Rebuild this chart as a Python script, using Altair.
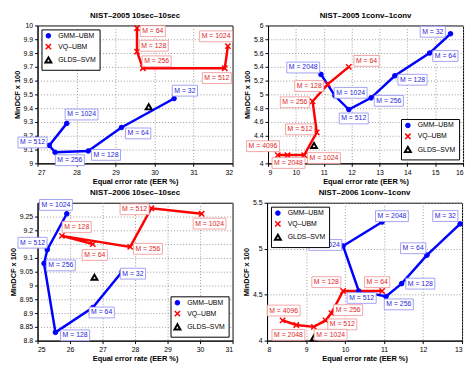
import altair as alt
import pandas as pd

FONT = "Liberation Sans"
BLUE = "#0000ff"
RED = "#ff0000"
BLUE_TXT = "#2626d9"
RED_TXT = "#e02626"
BLUE_BOX = "#8c8cf2"
RED_BOX = "#f29090"
W, H = 198, 140
FS = 7
SERIES = ["GMM–UBM", "VQ–UBM", "GLDS–SVM"]

# ---- Panel 1: NIST-2005 10sec-10sec
p1_gmm_M = [32, 64, 128, 256, 512, 1024]
p1_gmm_eer = [30.5, 29.15, 28.3, 27.45, 27.3, 27.75]
p1_gmm_dcf = [9.47, 9.26, 9.09, 9.08, 9.13, 9.29]
p1_vq_M = [64, 128, 256, 512, 1024]
p1_vq_eer = [29.55, 29.55, 29.7, 31.8, 31.88]
p1_vq_dcf = [9.98, 9.81, 9.69, 9.69, 9.85]
p1_glds = [29.85, 9.41]

# ---- Panel 2: NIST-2005 1conv-1conv
p2_gmm_M = [32, 64, 128, 256, 512, 1024, 2048]
p2_gmm_eer = [15.55, 14.8, 13.55, 12.7, 11.9, 11.4, 10.9]
p2_gmm_dcf = [5.88, 5.6, 5.27, 4.95, 4.78, 4.98, 5.29]
p2_vq_M = [64, 128, 256, 512, 1024, 2048, 4096]
p2_vq_eer = [11.9, 11.15, 10.6, 10.75, 10.3, 9.7, 9.35]
p2_vq_dcf = [5.4, 5.15, 4.9, 4.45, 4.12, 4.12, 4.12]
p2_glds = [10.65, 4.26]

# ---- Panel 3: NIST-2006 10sec-10sec
p3_gmm_M = [32, 64, 128, 256, 512, 1024]
p3_gmm_eer = [27.6, 26.7, 25.55, 25.2, 25.3, 25.9]
p3_gmm_dcf = [9.05, 8.92, 8.83, 9.08, 9.13, 9.26]
p3_vq_M = [64, 128, 256, 512, 1024]
p3_vq_eer = [26.7, 25.75, 27.85, 28.5, 30.05]
p3_vq_dcf = [9.15, 9.18, 9.14, 9.28, 9.26]
p3_glds = [26.75, 9.03]

# ---- Panel 4: NIST-2006 1conv-1conv
p4_gmm_M = [32, 64, 128, 256, 512, 1024, 2048]
p4_gmm_eer = [12.95, 12.1, 11.45, 11.05, 10.35, 9.95, 10.95]
p4_gmm_dcf = [5.27, 4.93, 4.62, 4.48, 4.54, 5.03, 5.29]
p4_vq_M = [64, 128, 256, 512, 1024, 2048, 4096]
p4_vq_eer = [10.95, 9.95, 9.65, 9.5, 9.2, 8.75, 8.4]
p4_vq_dcf = [4.54, 4.54, 4.3, 4.22, 4.15, 4.17, 4.22]
p4_glds = [9.2, 4.03]

# label box offsets (pixels, from point to box centre) -- styling only
p1_gmm_off = [(11, -8), (17, 6), (18, 4), (15, 8), (-17, -3), (15, -9)]
p1_vq_off = [(16, 3), (17, -6), (14, -7), (-8, 10), (-12, -10)]
p2_gmm_off = [(-18, -2), (16, 3), (18, 4), (18, 3), (5, 9), (16, -3), (-18, -7)]
p2_vq_off = [(18, -6), (-19, 2), (-18, 1), (-17, -3), (20, 3), (1, 8), (-15, -9)]
p3_gmm_off = [(11, 2), (9, 5), (20, 3), (17, 2), (-15, -7), (-11, -9)]
p3_vq_off = [(2, 11), (15, -9), (18, 2), (-17, 1), (8, 10)]
p4_gmm_off = [(-15, -8), (-14, -7), (19, 0), (13, 8), (3, 7), (-18, -1), (10, -6)]
p4_vq_off = [(-5, -9), (-17, -9), (17, -3), (17, 4), (17, 8), (-8, 10), (1, -10)]


def text_width(s, fs):
    widths = {"M": 0.833, " ": 0.278, "=": 0.584}
    return fs * sum(widths.get(c, 0.556) for c in s)


def panel(title, xdom, ydom, xticks, yticks, gM, gx, gy, goff, vM, vx, vy, voff, glds, orient):
    kx = W / (xdom[1] - xdom[0])
    ky = H / (ydom[1] - ydom[0])
    rows_line, rows_pt, rows_lab = [], [], []
    for name, Ms, xs_, ys_, offs, lc, tc, bc in [
        (SERIES[0], gM, gx, gy, goff, BLUE, BLUE_TXT, BLUE_BOX),
        (SERIES[1], vM, vx, vy, voff, RED, RED_TXT, RED_BOX),
    ]:
        for i, (m, x, y, (dx, dy)) in enumerate(zip(Ms, xs_, ys_, offs)):
            rows_pt.append(dict(series=name, eer=x, dcf=y))
            rows_line.append(dict(series=name, eer=x, dcf=y, idx=i, lc=lc))
            lab = f"M = {m}"
            w = text_width(lab, FS) + 4
            h = FS + 4
            cx = x + dx / kx
            cy = y - dy / ky
            rows_lab.append(dict(lab=lab, eer=cx, dcf=cy,
                                 x0=cx - w / 2 / kx, x1=cx + w / 2 / kx,
                                 y0=cy - h / 2 / ky, y1=cy + h / 2 / ky,
                                 tc=tc, bc=bc))
    rows_pt.append(dict(series=SERIES[2], eer=glds[0], dcf=glds[1]))
    dl = pd.DataFrame(rows_line)
    dp = pd.DataFrame(rows_pt)
    db = pd.DataFrame(rows_lab)

    xs = alt.Scale(domain=xdom, nice=False, zero=False)
    ys = alt.Scale(domain=ydom, nice=False, zero=False)
    xax = alt.Axis(values=xticks, format="~g")
    yax = alt.Axis(values=yticks, format="~g")
    XT = "Equal error rate (EER %)"
    YT = "MinDCF x 100"
    X = alt.X("eer:Q", scale=xs, axis=xax, title=XT)
    Y = alt.Y("dcf:Q", scale=ys, axis=yax, title=YT)

    lines = alt.Chart(dl).mark_line(strokeWidth=2.5).encode(
        x=X, y=Y, color=alt.Color("lc:N", scale=None), detail="series:N", order="idx:Q")
    boxes = alt.Chart(db).mark_rect(fill="white", strokeWidth=0.8).encode(
        x=alt.X("x0:Q", scale=xs, axis=xax, title=XT), x2="x1:Q",
        y=alt.Y("y0:Q", scale=ys, axis=yax, title=YT), y2="y1:Q",
        stroke=alt.Stroke("bc:N", scale=None))
    texts = alt.Chart(db).mark_text(fontSize=FS, font=FONT).encode(
        x=X, y=Y, color=alt.Color("tc:N", scale=None), text="lab:N")
    leg = alt.Legend(title=None, orient=orient, strokeColor="black", fillColor="white",
                     padding=3, labelFontSize=7, labelFont=FONT, rowPadding=0, offset=4,
                     labelOffset=6, labelColor="black")
    points = alt.Chart(dp).mark_point(opacity=1).encode(
        x=X, y=Y,
        shape=alt.Shape("series:N", scale=alt.Scale(domain=SERIES, range=["circle", "M-1,-1L1,1M-1,1L1,-1", "triangle-up"]), legend=leg),
        fill=alt.Fill("series:N", scale=alt.Scale(domain=SERIES, range=[BLUE, "transparent", "transparent"]), legend=leg),
        stroke=alt.Stroke("series:N", scale=alt.Scale(domain=SERIES, range=[BLUE, RED, "black"]), legend=leg),
        size=alt.Size("series:N", scale=alt.Scale(domain=SERIES, range=[22, 36, 60]), legend=leg),
        strokeWidth=alt.StrokeWidth("series:N", scale=alt.Scale(domain=SERIES, range=[1, 2, 1.6]), legend=leg),
    )
    return alt.layer(lines, points, boxes, texts).properties(width=W, height=H, title=title)


def frange(a, b, s):
    n = int(round((b - a) / s))
    return [round(a + i * s, 4) for i in range(n + 1)]


c1 = panel("NIST–2005 10sec–10sec", [27, 32], [9, 10], frange(27, 32, 1), frange(9, 10, 0.1),
           p1_gmm_M, p1_gmm_eer, p1_gmm_dcf, p1_gmm_off, p1_vq_M, p1_vq_eer, p1_vq_dcf, p1_vq_off, p1_glds, "top-left")
c2 = panel("NIST–2005 1conv–1conv", [9, 16], [4, 6], frange(9, 16, 1), frange(4, 6, 0.2),
           p2_gmm_M, p2_gmm_eer, p2_gmm_dcf, p2_gmm_off, p2_vq_M, p2_vq_eer, p2_vq_dcf, p2_vq_off, p2_glds, "bottom-right")
c3 = panel("NIST–2006 10sec–10sec", [25, 31], [8.8, 9.3], frange(25, 31, 1), frange(8.8, 9.25, 0.05),
           p3_gmm_M, p3_gmm_eer, p3_gmm_dcf, p3_gmm_off, p3_vq_M, p3_vq_eer, p3_vq_dcf, p3_vq_off, p3_glds, "bottom-right")
c4 = panel("NIST–2006 1conv–1conv", [8, 13], [4, 5.5], frange(8, 13, 1), frange(4, 5.5, 0.5),
           p4_gmm_M, p4_gmm_eer, p4_gmm_dcf, p4_gmm_off, p4_vq_M, p4_vq_eer, p4_vq_dcf, p4_vq_off, p4_glds, "top-left")

ind = dict(shape="independent", fill="independent", stroke="independent", size="independent",
           strokeWidth="independent", color="independent", x="independent", y="independent")
indl = dict(shape="independent", fill="independent", stroke="independent", size="independent",
            strokeWidth="independent", color="independent")

row1 = alt.hconcat(c1, c2, spacing=8).resolve_scale(**ind).resolve_legend(**indl)
row2 = alt.hconcat(c3, c4, spacing=8).resolve_scale(**ind).resolve_legend(**indl)
chart = alt.vconcat(row1, row2, spacing=3).resolve_scale(**ind).resolve_legend(**indl).properties(
    padding={"left": 0, "top": 0, "right": 0, "bottom": 0}
).configure_view(stroke="black", strokeWidth=1).configure_axis(
    grid=True, gridDash=[1, 2], gridColor="#999999", labelFontSize=7, titleFontSize=7.5,
    labelFont=FONT, titleFont=FONT, titleFontWeight="bold", domainColor="black",
    tickColor="black", tickSize=3, labelPadding=2, titlePadding=2,
    labelColor="black", titleColor="black", zindex=0
).configure_title(fontSize=8, font=FONT, fontWeight="bold", offset=2)

chart.save("out.html", embed_options={"renderer": "svg", "actions": False})
